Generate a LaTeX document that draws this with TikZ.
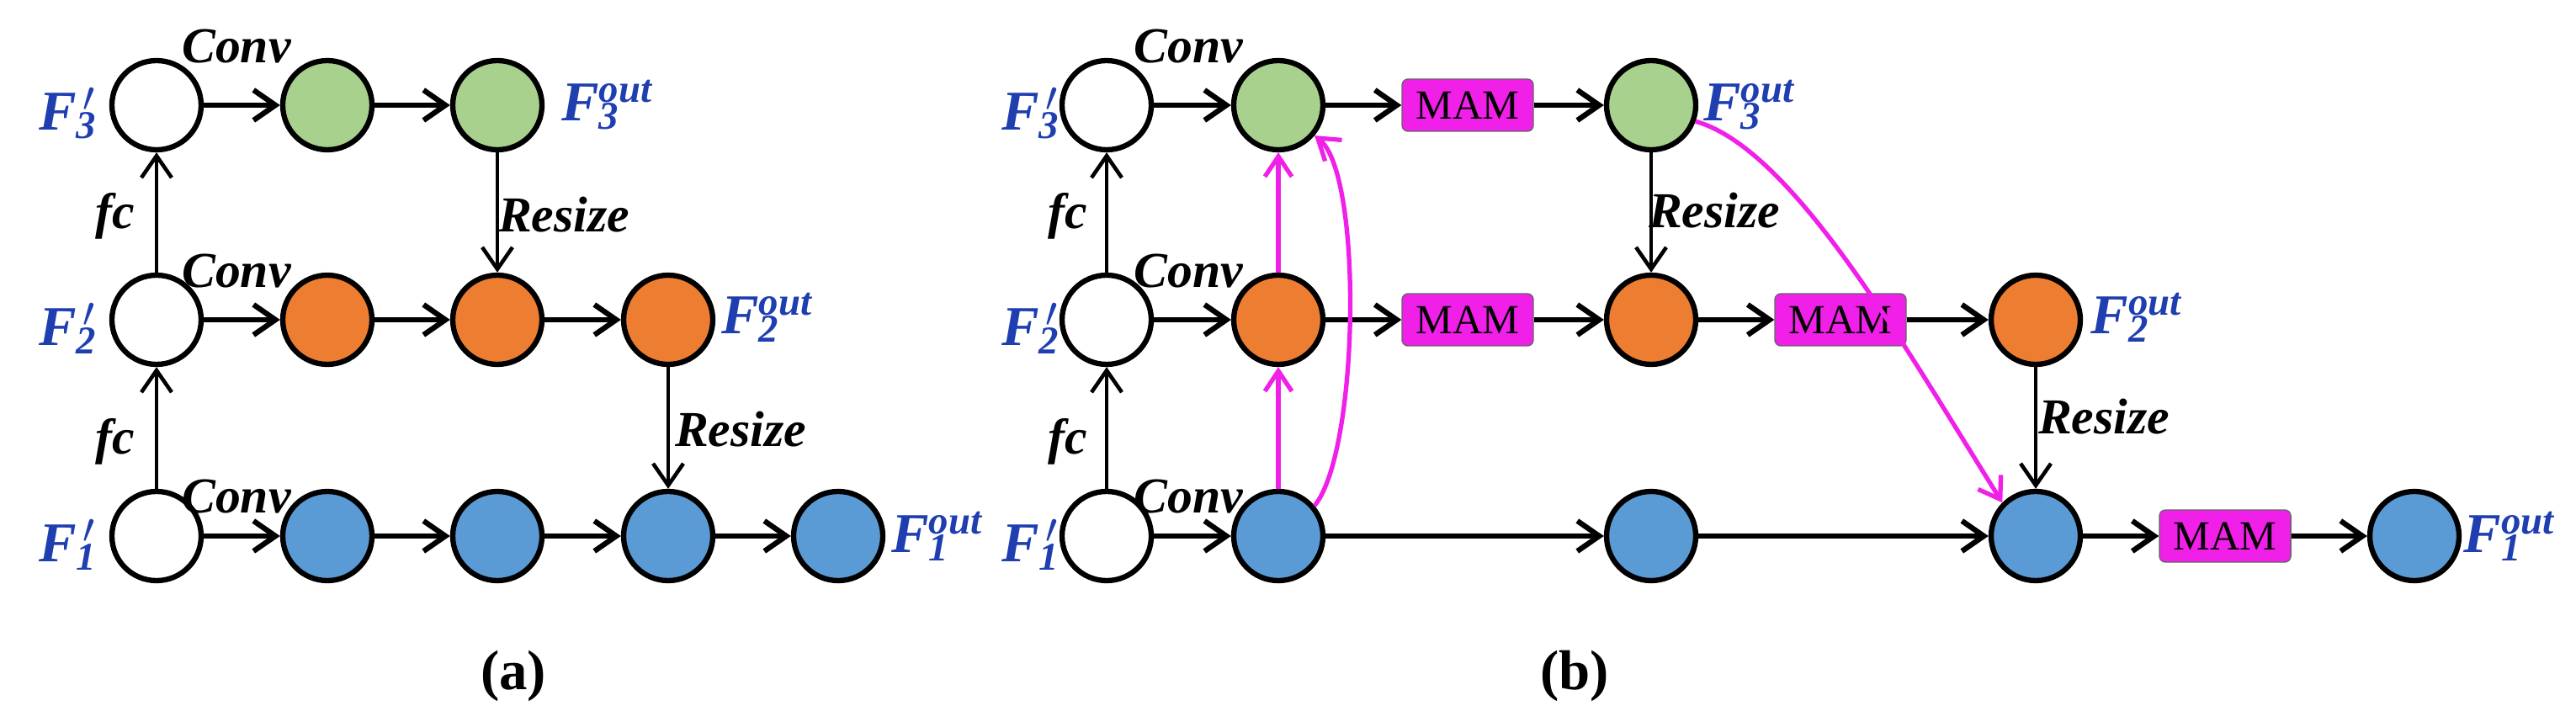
\documentclass[tikz,border=0pt]{standalone}
\usepackage{fontspec}
\setmainfont{Liberation Serif}
\usetikzlibrary{arrows.meta}
\definecolor{cgreen}{HTML}{A9D18E}
\definecolor{corange}{HTML}{ED7D31}
\definecolor{cblue}{HTML}{5B9BD5}
\definecolor{cmag}{HTML}{F020E8}
\definecolor{cfont}{HTML}{1F3FB0}
\newcommand{\Fp}[1]{{\color{cfont}\bfseries\itshape F\rlap{\textsuperscript{\,$\prime$}}\textsubscript{#1}}}
\newcommand{\Fo}[1]{{\color{cfont}\bfseries\itshape F\rlap{\textsuperscript{out}}\textsubscript{#1}\phantom{out}}}
\begin{document}
\begin{tikzpicture}[x=1cm,y=1cm,
  nd/.style={circle,draw=black,line width=1.8pt,minimum size=1.06cm,inner sep=0pt},
  wn/.style={nd,fill=white},
  gn/.style={nd,fill=cgreen},
  on/.style={nd,fill=corange},
  bn/.style={nd,fill=cblue},
  mam/.style={draw=black!60,fill=cmag,rounded corners=2pt,minimum width=1.56cm,minimum height=0.62cm,inner sep=0pt,font=\fontsize{14}{16}\selectfont},
  ar/.style={-{Straight Barb[length=2.6mm,width=3.6mm]},line width=1.8pt},
  vr/.style={-{Straight Barb[length=2.6mm,width=3.6mm]},line width=1.3pt},
  mg/.style={-{Straight Barb[length=2.4mm,width=3.2mm]},line width=1.5pt,draw=cmag},
  lb/.style={font=\fontsize{17}{20}\selectfont\bfseries\itshape},
  fl/.style={font=\fontsize{19}{22}\selectfont},
  captxt/.style={font=\fontsize{19}{22}\selectfont\bfseries}]
\useasboundingbox (0,0) rectangle (30.61,8.57);
% ---- (a)
\node[wn] (a31) at (1.86,7.32) {};
\node[gn] (a32) at (3.89,7.32) {};
\node[gn] (a33) at (5.91,7.32) {};
\node[wn] (a21) at (1.86,4.77) {};
\node[on] (a22) at (3.89,4.77) {};
\node[on] (a23) at (5.91,4.77) {};
\node[on] (a24) at (7.94,4.77) {};
\node[wn] (a11) at (1.86,2.20) {};
\node[bn] (a12) at (3.89,2.20) {};
\node[bn] (a13) at (5.91,2.20) {};
\node[bn] (a14) at (7.94,2.20) {};
\node[bn] (a15) at (9.96,2.20) {};
\draw[ar] (a31) -- (a32); \draw[ar] (a32) -- (a33);
\draw[ar] (a21) -- (a22); \draw[ar] (a22) -- (a23); \draw[ar] (a23) -- (a24);
\draw[ar] (a11) -- (a12); \draw[ar] (a12) -- (a13); \draw[ar] (a13) -- (a14); \draw[ar] (a14) -- (a15);
\draw[vr] (a11) -- (a21); \draw[vr] (a21) -- (a31);
\draw[vr] (a33) -- (a23); \draw[vr] (a24) -- (a14);
\node[fl] (la3) at (0.81,7.22) {\Fp{3}};
\node[fl] (la2) at (0.81,4.67) {\Fp{2}};
\node[fl] (la1) at (0.81,2.10) {\Fp{1}};
\node[fl,anchor=west] (lao3) at (6.55,7.32) {\Fo{3}};
\node[fl,anchor=west] (lao2) at (8.45,4.80) {\Fo{2}};
\node[fl,anchor=west] (lao1) at (10.47,2.20) {\Fo{1}};
\node[lb] (ca3) at (2.81,8.02) {Conv};
\node[lb] (ca2) at (2.81,5.35) {Conv};
\node[lb] (ca1) at (2.81,2.67) {Conv};
\node[lb] (fa2) at (1.37,6.00) {fc};
\node[lb] (fa1) at (1.37,3.32) {fc};
\node[lb] (ra1) at (6.70,6.02) {Resize};
\node[lb] (ra2) at (8.80,3.47) {Resize};
\node[captxt] (capa) at (6.10,0.54) {(a)};
% ---- (b)
\node[wn] (b31) at (13.15,7.32) {};
\node[gn] (b32) at (15.19,7.32) {};
\node[mam] (m3) at (17.44,7.32) {MAM};
\node[gn] (b33) at (19.62,7.32) {};
\node[wn] (b21) at (13.15,4.77) {};
\node[on] (b22) at (15.19,4.77) {};
\node[mam] (m21) at (17.44,4.77) {MAM};
\node[on] (b23) at (19.62,4.77) {};
\node[mam] (m22) at (21.87,4.77) {MAM};
\node[on] (b24) at (24.19,4.77) {};
\node[wn] (b11) at (13.15,2.20) {};
\node[bn] (b12) at (15.19,2.20) {};
\node[bn] (b13) at (19.62,2.20) {};
\node[bn] (b14) at (24.19,2.20) {};
\node[mam] (m1) at (26.44,2.20) {MAM};
\node[bn] (b15) at (28.69,2.20) {};
\draw[ar] (b31) -- (b32); \draw[ar] (b32) -- (m3); \draw[ar] (m3) -- (b33);
\draw[ar] (b21) -- (b22); \draw[ar] (b22) -- (m21); \draw[ar] (m21) -- (b23);
\draw[ar] (b23) -- (m22); \draw[ar] (m22) -- (b24);
\draw[ar] (b11) -- (b12); \draw[ar] (b12) -- (b13); \draw[ar] (b13) -- (b14);
\draw[ar] (b14) -- (m1); \draw[ar] (m1) -- (b15);
\draw[vr] (b11) -- (b21); \draw[vr] (b21) -- (b31);
\draw[vr] (b33) -- (b23); \draw[vr] (b24) -- (b14);
\draw[mg] (b12) -- (b22); \draw[mg] (b22) -- (b32);
\draw[mg] (b12.40) .. controls (16.15,3.2) and (16.2,6.5) .. (b32.-40);
\draw[mg] (b33.-20) .. controls (21.3,6.8) and (22.6,4.5) .. (b14.135);
\node[fl] (lb3) at (12.25,7.22) {\Fp{3}};
\node[fl] (lb2) at (12.25,4.67) {\Fp{2}};
\node[fl] (lb1) at (12.25,2.10) {\Fp{1}};
\node[fl,anchor=west] (lbo3) at (20.12,7.32) {\Fo{3}};
\node[fl,anchor=west] (lbo2) at (24.72,4.80) {\Fo{2}};
\node[fl,anchor=west] (lbo1) at (29.15,2.20) {\Fo{1}};
\node[lb] (cb3) at (14.12,8.02) {Conv};
\node[lb] (cb2) at (14.12,5.35) {Conv};
\node[lb] (cb1) at (14.12,2.67) {Conv};
\node[lb] (fb2) at (12.69,6.00) {fc};
\node[lb] (fb1) at (12.69,3.32) {fc};
\node[lb] (rb1) at (20.37,6.07) {Resize};
\node[lb] (rb2) at (25.00,3.62) {Resize};
\node[captxt] (capb) at (18.71,0.54) {(b)};
\end{tikzpicture}
\end{document}
